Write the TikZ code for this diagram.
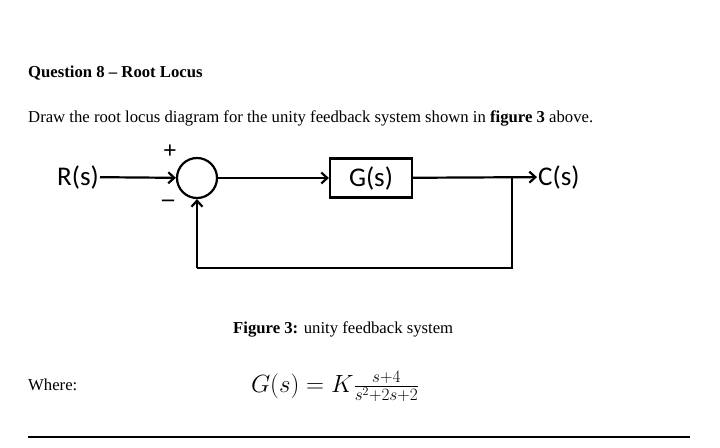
\documentclass[tikz,border=0pt]{standalone}
\usepackage{fontspec}
\setmainfont{Liberation Serif}
\newfontfamily\carlitofont{Carlito}
\usetikzlibrary{arrows.meta}
\begin{document}
\begin{tikzpicture}[x=1pt,y=-1pt,
  sig/.style={line width=2.2pt,-{Straight Barb[length=6pt,width=11pt,line width=2.2pt]}},
  ln/.style={line width=2.2pt},
  lab/.style={font=\carlitofont\fontsize{27}{30}\selectfont,inner sep=1pt},
  txt/.style={anchor=base west,inner sep=0,font=\fontsize{16.7}{18}\selectfont}]
\useasboundingbox (0,0) rectangle (720,447);
\node[txt,font=\bfseries\fontsize{16.7}{18}\selectfont] (q) at (28,77) {Question 8 -- Root Locus};
\node[txt] (d) at (28,122) {Draw the root locus diagram for the unity feedback system shown in \textbf{figure 3} above.};
\node[lab,anchor=east] (R) at (100,177) {R(s)};
\node[draw,circle,minimum size=40pt,inner sep=0,line width=2.2pt] (S) at (197,178) {};
\node[draw,line width=2.2pt,minimum width=82pt,minimum height=39pt,lab] (G) at (371,178) {G(s)};
\node[lab,anchor=west] (C) at (537,177) {C(s)};
\node[font=\bfseries\fontsize{24}{24}\selectfont] (p) at (170,152) {+};
\node[font=\bfseries\fontsize{24}{24}\selectfont] (m) at (168,203) {--};
\coordinate (B) at (512,178);
\coordinate (L) at (512,268);
\coordinate (K) at (197,268);
\draw[sig] (R) -- (S);
\draw[sig] (S) -- (G);
\draw[sig] (G) -- (C);
\draw[ln] (B) -- (L) -- (K);
\draw[sig] (K) -- (S);
\node[txt] (f) at (233,333) {\textbf{Figure 3:} unity feedback system};
\node[txt] (w) at (28,390) {Where:};
\node[anchor=base,font=\fontsize{26}{28}\selectfont] (e) at (335,392) {$G(s)=K\frac{s+4}{s^2+2s+2}$};
\draw[line width=1.8pt] (28,437) coordinate (a1) -- (690,437) coordinate (a2);
\end{tikzpicture}
\end{document}
